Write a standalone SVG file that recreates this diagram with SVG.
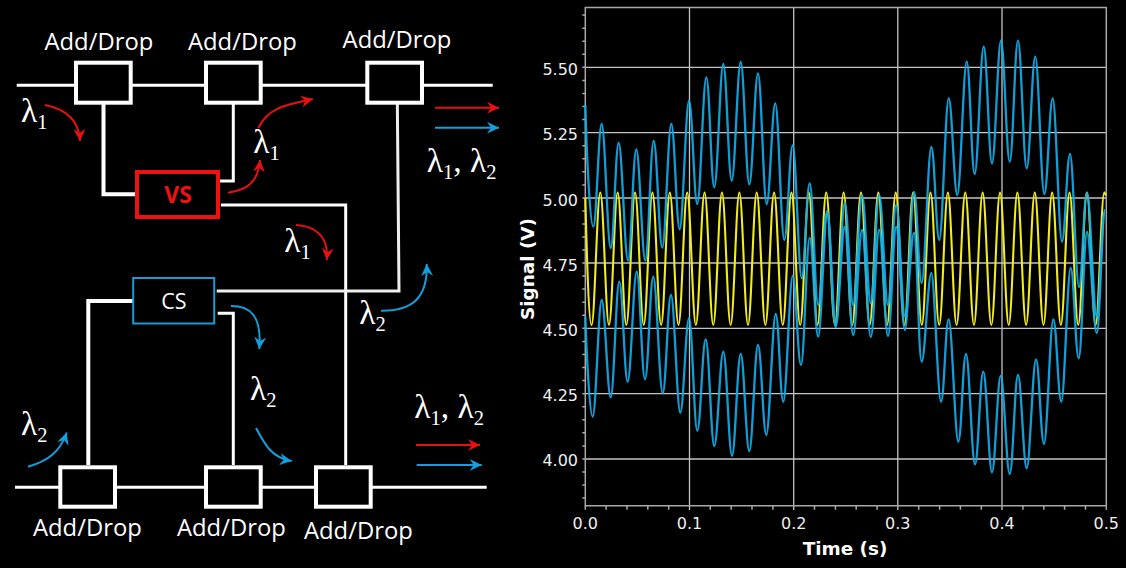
<svg xmlns="http://www.w3.org/2000/svg" width="1126" height="568" viewBox="0 0 1126 568">
<style>
.w3{fill:none;stroke:#fff;stroke-width:3}
.w4{fill:none;stroke:#fff;stroke-width:4}
.box{fill:#000;stroke:#fff;stroke-width:4}
.lbl{font-family:"Open Sans","Noto Sans",sans-serif;font-size:23.8px;fill:#fff}
.lam{font-family:"Liberation Serif","Times New Roman",serif;font-size:33.5px;fill:#fff}
.sub{font-size:20.5px}
.ra{fill:none;stroke:#e81010;stroke-width:2;marker-end:url(#mr)}
.ba{fill:none;stroke:#12a0dc;stroke-width:2;marker-end:url(#mb)}
.tick{font-family:"DejaVu Sans",sans-serif;font-size:16px;fill:#eee}
.ax{font-family:"DejaVu Sans",sans-serif;font-size:18.4px;font-weight:bold;fill:#fff}
.grid{fill:none;stroke:#c4c4c4;stroke-width:1.3}
.frame{fill:none;stroke:#a8a8a8;stroke-width:1.5}
.sig{fill:none;stroke:#10ace8;stroke-width:2.3;stroke-opacity:.92;stroke-linejoin:round}
</style>
<defs>
<marker id="mr" markerUnits="userSpaceOnUse" markerWidth="14" markerHeight="14" refX="12" refY="6" orient="auto"><path d="M12,6 L0,0 L4,6 L0,12 z" fill="#e81010"/></marker>
<marker id="mb" markerUnits="userSpaceOnUse" markerWidth="14" markerHeight="14" refX="12" refY="6" orient="auto"><path d="M12,6 L0,0 L4,6 L0,12 z" fill="#12a0dc"/></marker>
</defs>
<rect width="1126" height="568" fill="#000"/>
<g id="connectors">
<path class="w3" d="M16.7,85.3H492.7"/>
<path class="w3" d="M15,487.3H486.7"/>
<path class="w4" d="M103.5,104V194.3H137"/>
<path class="w3" d="M233.3,104V181H220"/>
<path class="w3" d="M221,205H345.7V465"/>
<path class="w3" d="M397.3,100L399,291H216.7" style="stroke:#eee"/>
<path class="w4" d="M133,301H88.3V465"/>
<path class="w3" d="M217.7,313.3H233.3V465"/>
<path class="ra" d="M45,105C65,109 79,120 80,141"/>
<path class="ra" d="M258.3,128C268,108 285,105 313,99"/>
<path class="ra" d="M228,192.7C248,190 258,182 260,160"/>
<path class="ra" d="M296,225C315,226 329,236 326.7,260"/>
<path class="ra" d="M435,107.7H499"/>
<path class="ba" d="M435,127.7H499"/>
<path class="ra" d="M416,445H480"/>
<path class="ba" d="M416.7,465H481.7"/>
<path class="ba" d="M28,466.7C48,461 60,452 66.7,432.5"/>
<path class="ba" d="M231,306C250,306 262,315 259.3,349"/>
<path class="ba" d="M256,428C265,445 272,458 291.7,461"/>
<path class="ba" d="M381,310.7C410,311 428,300 426.7,264"/>
</g>
<g id="ad1"><rect class="box" x="76" y="62.7" width="54.7" height="40"/><text class="lbl" x="44.5" y="50">Add/Drop</text></g>
<g id="ad2"><rect class="box" x="206" y="62.7" width="54.7" height="40"/><text class="lbl" x="188" y="50">Add/Drop</text></g>
<g id="ad3"><rect class="box" x="367.3" y="62.7" width="54.7" height="40"/><text class="lbl" x="342.6" y="48.3">Add/Drop</text></g>
<g id="ad4"><rect class="box" x="60.3" y="467.3" width="54.7" height="39.4"/><text class="lbl" x="33" y="536">Add/Drop</text></g>
<g id="ad5"><rect class="box" x="206" y="467.3" width="54.7" height="39.4"/><text class="lbl" x="177" y="536">Add/Drop</text></g>
<g id="ad6"><rect class="box" x="316" y="467.3" width="54.7" height="39.4"/><text class="lbl" x="304" y="538.7">Add/Drop</text></g>
<g id="vs"><rect x="137" y="172" width="81" height="45" fill="#000" stroke="#ee1111" stroke-width="4"/><text x="178" y="203.3" text-anchor="middle" style="font-family:'Open Sans','Noto Sans',sans-serif;font-size:23px;font-weight:bold;fill:#ee1111">VS</text></g>
<g id="cs"><rect x="133.2" y="278" width="81" height="45.5" fill="#000" stroke="#1b9ad6" stroke-width="2"/><text x="174" y="309.3" text-anchor="middle" style="font-family:'Open Sans','Noto Sans',sans-serif;font-size:21.5px;fill:#fff">CS</text></g>
<g id="lambdas">
<text class="lam" x="21" y="121.7">λ<tspan class="sub" dy="7">1</tspan></text>
<text class="lam" x="253.3" y="153.3">λ<tspan class="sub" dy="7">1</tspan></text>
<text class="lam" x="426.7" y="171.7">λ<tspan class="sub" dy="7">1</tspan><tspan dy="-7">, λ</tspan><tspan class="sub" dy="7">2</tspan></text>
<text class="lam" x="284.3" y="251.7">λ<tspan class="sub" dy="7">1</tspan></text>
<text class="lam" x="359.3" y="324">λ<tspan class="sub" dy="7">2</tspan></text>
<text class="lam" x="250" y="400">λ<tspan class="sub" dy="7">2</tspan></text>
<text class="lam" x="21" y="435">λ<tspan class="sub" dy="7">2</tspan></text>
<text class="lam" x="414.3" y="418.3">λ<tspan class="sub" dy="7">1</tspan><tspan dy="-7">, λ</tspan><tspan class="sub" dy="7">2</tspan></text>
</g>
<g id="plot">
<path class="grid" d="M585.3,67.3H1106M585.3,132.7H1106M585.3,198H1106M585.3,263H1106M585.3,328.3H1106M585.3,393.7H1106M585.3,459H1106"/>
<path class="grid" d="M689.5,7.5V510M793.7,7.5V510M897.8,7.5V510M1002,7.5V510"/>
<path class="frame" d="M585.3,7.5H1106.3V505.7H585.3Z"/>
<path class="frame" d="M585.3,505.7v4M606.1,505.7v4M627,505.7v4M647.8,505.7v4M668.7,505.7v4M710.3,505.7v4M731.2,505.7v4M752,505.7v4M772.9,505.7v4M814.5,505.7v4M835.4,505.7v4M856.2,505.7v4M877.1,505.7v4M918.7,505.7v4M939.6,505.7v4M960.4,505.7v4M981.3,505.7v4M1022.9,505.7v4M1043.8,505.7v4M1064.6,505.7v4M1085.5,505.7v4M1106.3,505.7v4"/>
<path class="frame" d="M582.3,15.1h3M582.3,28.2h3M582.3,41.2h3M582.3,54.3h3M582.3,67.3h3M582.3,80.4h3M582.3,93.4h3M582.3,106.5h3M582.3,119.6h3M582.3,132.7h3M582.3,145.7h3M582.3,158.8h3M582.3,171.8h3M582.3,184.9h3M582.3,198h3M582.3,211h3M582.3,224h3M582.3,237h3M582.3,250h3M582.3,263h3M582.3,276h3M582.3,289h3M582.3,302.2h3M582.3,315.2h3M582.3,328.3h3M582.3,341.4h3M582.3,354.4h3M582.3,367.5h3M582.3,380.6h3M582.3,393.7h3M582.3,406.7h3M582.3,419.8h3M582.3,432.8h3M582.3,445.9h3M582.3,459h3M582.3,472h3M582.3,485h3M582.3,498h3"/>
<path fill="none" stroke="#f2ec1c" stroke-width="2.1" d="M585.3,198C586.5,240 588.5,325 591.6,325s5.49-132.5 8.69-132.5 s5.49 132.5 8.69 132.5 s5.49-132.5 8.69-132.5 s5.49 132.5 8.69 132.5 s5.49-132.5 8.69-132.5 s5.49 132.5 8.69 132.5 s5.49-132.5 8.69-132.5 s5.49 132.5 8.69 132.5 s5.49-132.5 8.69-132.5 s5.49 132.5 8.69 132.5 s5.49-132.5 8.69-132.5 s5.49 132.5 8.69 132.5 s5.49-132.5 8.69-132.5 s5.49 132.5 8.69 132.5 s5.49-132.5 8.69-132.5 s5.49 132.5 8.69 132.5 s5.49-132.5 8.69-132.5 s5.49 132.5 8.69 132.5 s5.49-132.5 8.69-132.5 s5.49 132.5 8.69 132.5 s5.49-132.5 8.69-132.5 s5.49 132.5 8.69 132.5 s5.49-132.5 8.69-132.5 s5.49 132.5 8.69 132.5 s5.49-132.5 8.69-132.5 s5.49 132.5 8.69 132.5 s5.49-132.5 8.69-132.5 s5.49 132.5 8.69 132.5 s5.49-132.5 8.69-132.5 s5.49 132.5 8.69 132.5 s5.49-132.5 8.69-132.5 s5.49 132.5 8.69 132.5 s5.49-132.5 8.69-132.5 s5.49 132.5 8.69 132.5 s5.49-132.5 8.69-132.5 s5.49 132.5 8.69 132.5 s5.49-132.5 8.69-132.5 s5.49 132.5 8.69 132.5 s5.49-132.5 8.69-132.5 s5.49 132.5 8.69 132.5 s5.49-132.5 8.69-132.5 s5.49 132.5 8.69 132.5 s5.49-132.5 8.69-132.5 s5.49 132.5 8.69 132.5 s5.49-132.5 8.69-132.5 s5.49 132.5 8.69 132.5 s5.49-132.5 8.69-132.5 s5.49 132.5 8.69 132.5 s5.49-132.5 8.69-132.5 s5.49 132.5 8.69 132.5 s5.49-132.5 8.69-132.5 s5.49 132.5 8.69 132.5 s5.49-132.5 8.69-132.5 s5.49 132.5 8.69 132.5 s5.49-132.5 8.69-132.5 s5.49 132.5 8.69 132.5 s5.49-132.5 8.69-132.5 s5.49 132.5 8.69 132.5 s5.49-132.5 8.69-132.5 l1.7,3"/>
<path class="sig" d="M585.3,105C586.5,150 590,226.7 593.3,226.7S598.5,124 601.7,124S607.5,248 610.7,248S615.5,143 618.7,143S624.8,260.7 628,260.7S633.1,149.3 636.3,149.3S642.1,260.7 645.3,260.7S650.5,141 653.7,141S659.1,247.7 662.3,247.7S668.1,124 671.3,124S676.5,229.3 679.7,229.3S685.8,100.7 689,100.7S694.1,204 697.3,204S703.1,77.3 706.3,77.3S711.1,187.3 714.3,187.3S720.1,64 723.3,64S728.5,180.7 731.7,180.7S737.5,62 740.7,62S746.1,184.3 749.3,184.3S754.8,73.3 758,73.3S763.5,204 766.7,204S772.1,103.3 775.3,103.3S781.1,240 784.3,240S789.5,145.3 792.7,145.3S798.5,278.3 801.7,278.3S806.5,183.3 809.7,183.3S815,305 818.2,305S824,211 827.2,211S832.5,325 835.7,325S841.5,227 844.7,227S850,335 853.2,335S858.8,230 862,230S867.6,337 870.8,337S876,230 879.2,230S884.8,336 888,336S893,227 896.2,227S901.8,330 905,330S910.8,192 914,192S918.5,283 921.7,283S928.1,147 931.3,147S936.1,240 939.3,240S945.5,98.3 948.7,98.3S954.1,195 957.3,195S963.5,61.7 966.7,61.7S971.5,174 974.7,174S980.5,46.7 983.7,46.7S988.8,163.3 992,163.3S997.8,40.7 1001,40.7S1006.5,161.7 1009.7,161.7S1014.8,40.7 1018,40.7S1023.5,168.3 1026.7,168.3S1032.1,56.7 1035.3,56.7S1041.1,194 1044.3,194S1049.5,98.3 1052.7,98.3S1058.8,241.7 1062,241.7S1066.8,154 1070,154S1075.8,287 1079,287S1083.8,193 1087,193S1093.5,316.7 1096.7,316.7S1101.8,210 1105,210"/>
<path class="sig" d="M585.3,316.7C586.5,350 589.5,416.7 592.7,416.7S598.5,300 601.7,300S607.5,397.3 610.7,397.3S616.1,281.7 619.3,281.7S624.5,381.7 627.7,381.7S633.5,271.7 636.7,271.7S641.8,379.3 645,379.3S650.1,276.7 653.3,276.7S659.5,393.3 662.7,393.3S667.8,295 671,295S677.1,412.7 680.3,412.7S685.8,318.3 689,318.3S694.1,430.7 697.3,430.7S702.5,339.3 705.7,339.3S711.1,446 714.3,446S720.1,351.7 723.3,351.7S728.8,455.7 732,455.7S737.5,354 740.7,354S746.1,451 749.3,451S754.8,345 758,345S763.1,435 766.3,435S772.5,314 775.7,314S780.1,401.7 783.3,401.7S789.5,276 792.7,276S797.8,365 801,365S806.5,238 809.7,238S815,336.7 818.2,336.7S824,214 827.2,214S832.5,327 835.7,327S841.5,203 844.7,203S850,305 853.2,305S858.8,195 862,195S867.6,303 870.8,303S876,195 879.2,195S884.8,305 888,305S893,205 896.2,205S901.8,316.7 905,316.7S910.8,233 914,233S918.5,361.7 921.7,361.7S928.1,273 931.3,273S937.8,401.7 941,401.7S945.5,319.3 948.7,319.3S955.1,441.7 958.3,441.7S962.8,354 966,354S971.8,464.3 975,464.3S980.1,371.7 983.3,371.7S988.8,472.3 992,472.3S997.5,376 1000.7,376S1006.5,474 1009.7,474S1014.8,375 1018,375S1023.5,468.3 1026.7,468.3S1032.8,359.3 1036,359.3S1040.8,444 1044,444S1050.1,319.3 1053.3,319.3S1058.1,401.7 1061.3,401.7S1067.5,268 1070.7,268S1075.5,358.3 1078.7,358.3S1083.8,232 1087,232S1093.5,333 1096.7,333S1101.8,212 1105,212"/>
<text class="tick" x="578" y="75" text-anchor="end">5.50</text>
<text class="tick" x="578" y="140" text-anchor="end">5.25</text>
<text class="tick" x="578" y="205.5" text-anchor="end">5.00</text>
<text class="tick" x="578" y="270.7" text-anchor="end">4.75</text>
<text class="tick" x="578" y="335.7" text-anchor="end">4.50</text>
<text class="tick" x="578" y="401" text-anchor="end">4.25</text>
<text class="tick" x="578" y="466.4" text-anchor="end">4.00</text>
<text class="tick" x="585.3" y="529.3" text-anchor="middle">0.0</text>
<text class="tick" x="689.5" y="529.3" text-anchor="middle">0.1</text>
<text class="tick" x="793.7" y="529.3" text-anchor="middle">0.2</text>
<text class="tick" x="897.8" y="529.3" text-anchor="middle">0.3</text>
<text class="tick" x="1002" y="529.3" text-anchor="middle">0.4</text>
<text class="tick" x="1106.3" y="529.3" text-anchor="middle">0.5</text>
<text class="ax" x="845" y="555" text-anchor="middle">Time (s)</text>
<text class="ax" transform="translate(534 269) rotate(-90)" text-anchor="middle">Signal (V)</text>
</g>
</svg>
